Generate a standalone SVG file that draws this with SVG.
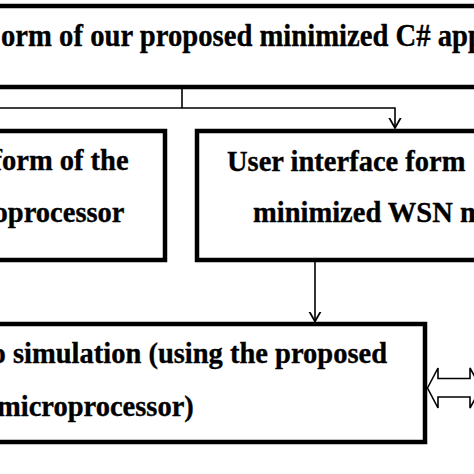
<svg xmlns="http://www.w3.org/2000/svg" width="474" height="474" viewBox="0 0 474 474">
  <style>
    .box { fill: #fff; stroke: #000; stroke-width: 4.5; }
    .t { font-family: "Liberation Serif", "Times New Roman", serif; font-weight: bold; font-size: 28.5px; fill: #000; stroke: #000; stroke-width: 0.35; }
    .ln { fill: none; stroke: #000; stroke-width: 1.6; }
    .blk { fill: #fff; stroke: #000; stroke-width: 1.6; stroke-linejoin: miter; }
  </style>
  <defs>
    <marker id="open" markerUnits="userSpaceOnUse" markerWidth="20" markerHeight="20" viewBox="-10 -10 20 20" refX="0" refY="0" orient="auto">
      <path d="M -15 -8.5 L 0 0 L -15 8.5" fill="none" stroke="#000" stroke-width="1.8"/>
    </marker>
  </defs>
  <rect width="474" height="474" fill="#fff"/>

  <g id="node-top">
    <rect class="box" x="-10" y="6" width="494" height="81"/>
    <text class="t" x="1" y="46" style="font-size:32px" textLength="483" lengthAdjust="spacingAndGlyphs">orm of our proposed minimized C# app</text>
  </g>

  <g id="node-left">
    <rect class="box" x="-10" y="131" width="175" height="129"/>
    <text class="t" x="-7.5" y="169.5">form of the</text>
    <text class="t" x="-6.4" y="221.5">oprocessor</text>
  </g>

  <g id="node-right">
    <rect class="box" x="197" y="131" width="290" height="129"/>
    <text class="t" x="227" y="170.5">User interface form</text>
    <text class="t" x="253" y="221.5">minimized WSN m</text>
  </g>

  <g id="node-bottom">
    <rect class="box" x="-10" y="324" width="435" height="118"/>
    <text class="t" x="-8.4" y="363">o simulation (using the proposed</text>
    <text class="t" x="-3" y="416">microprocessor)</text>
  </g>

  <g id="connectors">
    <line class="ln" x1="182" y1="89" x2="182" y2="108"/>
    <polyline class="ln" points="-5,108 395,108 395,128" marker-end="url(#open)"/>
    <line class="ln" x1="315" y1="262" x2="315" y2="321.5" marker-end="url(#open)"/>
    <polygon class="blk" points="427.5,388 438,368 438,378.5 470,378.5 470,368 481,388 470,408 470,397 438,397 438,408"/>
  </g>
</svg>
